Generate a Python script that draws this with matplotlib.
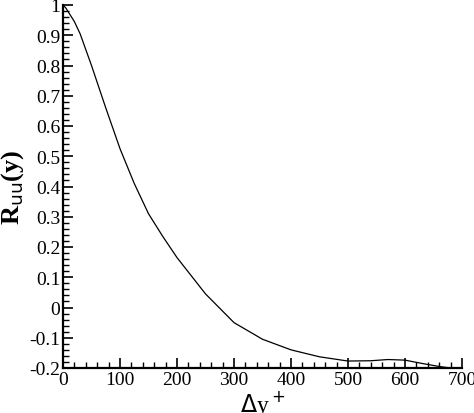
import matplotlib
matplotlib.use("Agg")
import matplotlib.pyplot as plt
import numpy as np
from matplotlib.ticker import MultipleLocator

dy = [0, 5, 10, 20, 30, 50, 75, 100, 125, 150, 175, 200, 250, 300, 350, 400, 450, 500, 540, 570, 600, 630, 660, 680, 700]
ruu = [1.0, 0.99, 0.975, 0.945, 0.905, 0.80, 0.66, 0.525, 0.41, 0.31, 0.235, 0.165, 0.045, -0.05, -0.105, -0.14, -0.163, -0.177, -0.176, -0.172, -0.174, -0.185, -0.195, -0.2, -0.2]

plt.rcParams['font.family'] = ['Liberation Serif']
fig = plt.figure(figsize=(4.74, 4.14), dpi=100)
ax = fig.add_axes([63/474, 1-369/414, 399/474, 363/414])
ax.plot(dy, ruu, color='black', lw=0.9, clip_on=False)
ax.set_xlim(0, 700)
ax.set_ylim(-0.2, 1.0)
ax.set_xticks(np.arange(0, 701, 100))
yt = np.round(np.arange(-0.2, 1.01, 0.1), 1)
ax.set_yticks(yt)
ax.set_yticklabels([f"{v:g}" for v in yt])
ax.xaxis.set_minor_locator(MultipleLocator(20))
ax.yaxis.set_minor_locator(MultipleLocator(0.02))
ax.spines['top'].set_visible(False)
ax.spines['right'].set_visible(False)
for s in ('left', 'bottom'):
    ax.spines[s].set_linewidth(1.6)
ax.tick_params(which='major', direction='in', labelsize=14, length=7, width=1.2, pad=2)
ax.tick_params(which='minor', direction='in', length=4, width=1.0)
ax.set_xlabel(r'$\Delta$y$^+$', fontsize=17, labelpad=0)
ax.set_ylabel(r'R$_{\rm uu}$(y)', fontsize=19, fontweight='bold', labelpad=2)
fig.savefig('out.png', dpi=100)
